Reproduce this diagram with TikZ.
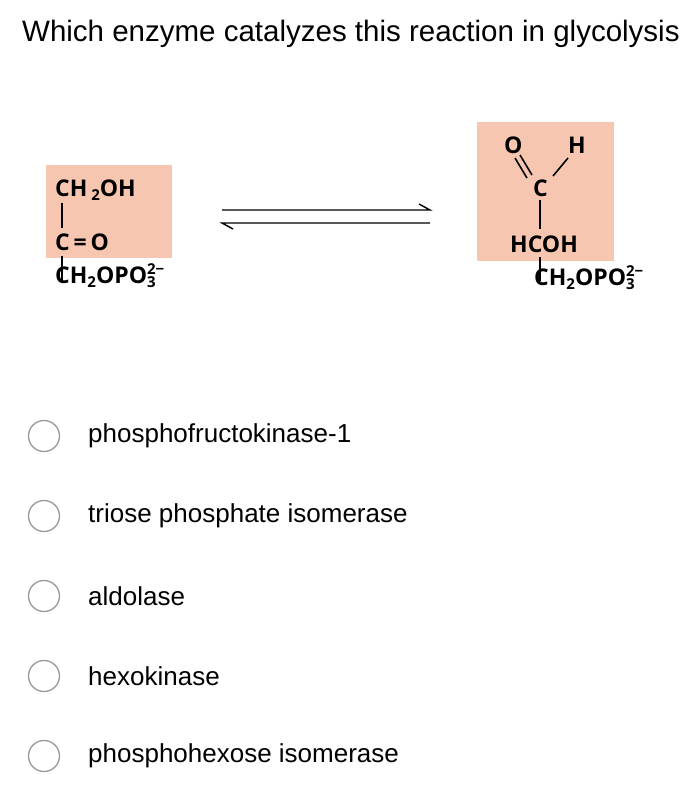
\documentclass[tikz,border=0pt]{standalone}
\usepackage{fontspec}
\setmainfont{Liberation Sans}
\newfontfamily\chem{Open Sans}
\definecolor{salmon}{RGB}{246,198,176}
\newcommand{\sbx}[1]{\raisebox{-4pt}{\fontsize{15}{15}\selectfont #1}}
\newcommand{\chg}{\rlap{\raisebox{9pt}{\fontsize{15}{15}\selectfont 2\textminus}}\raisebox{-4pt}{\fontsize{15}{15}\selectfont 3}}
\begin{document}
\begin{tikzpicture}[x=1pt,y=-1pt,
  q/.style={anchor=west,font=\fontsize{26}{30}\selectfont,inner sep=0},
  ch/.style={anchor=base west,font=\chem\bfseries\fontsize{23}{26}\selectfont,inner sep=0},
  opt/.style={draw=gray!80,line width=1.3pt,circle,minimum size=31pt,inner sep=0},
  bond/.style={line width=1.6pt}]
\useasboundingbox (0,0) rectangle (688,800);
\node[anchor=west,inner sep=0,font=\fontsize{29.5}{34}\selectfont] (title) at (22,34) {Which enzyme catalyzes this reaction in glycolysis};
% left molecule
\fill[salmon] (46,165) rectangle (172,258);
\node[ch] (l1) at (55,196) {CH\,\sbx{2}OH};
\node[ch] (l2) at (55,250) {C\,=\,O};
\node[ch] (l3) at (55,283) {CH\sbx{2}OPO\chg};
\coordinate (a1) at (62,203); \coordinate (a2) at (62,228);
\coordinate (b1) at (62,256); \coordinate (b2) at (62,281);
\draw[bond] (a1) -- (a2); \draw[bond] (b1) -- (b2);
% arrows
\coordinate (r1) at (222,210); \coordinate (r2) at (430,210);
\coordinate (s1) at (222,223); \coordinate (s2) at (430,223);
\draw[line width=1.4pt] (r1) -- (r2) -- (419,204);
\draw[line width=1.4pt] (s2) -- (s1) -- (233,229);
% right molecule
\fill[salmon] (477,122) rectangle (614,261);
\node[ch] (o) at (504,153) {O};
\node[ch] (h) at (568,153) {H};
\node[ch] (c) at (533,196) {C};
\node[ch] (hcoh) at (510,252) {HCOH};
\node[ch] (r3) at (534,285) {CH\sbx{2}OPO\chg};
\draw[bond] (520,155) -- (532,175); \draw[bond] (515,158) -- (527,178);
\draw[bond] (568,158) -- (553,176);
\draw[bond] (540,200) -- (540,229);
\draw[bond] (540,257) -- (540,281);
% options
\foreach \i/\t in {0/phosphofructokinase-1,1/triose phosphate isomerase,2/aldolase,3/hexokinase,4/phosphohexose isomerase}{
  \node[opt] (c\i) at (44,436+80*\i) {};
  \node[q] (t\i) at (88,436+80*\i) {\t};
}
\end{tikzpicture}
\end{document}
